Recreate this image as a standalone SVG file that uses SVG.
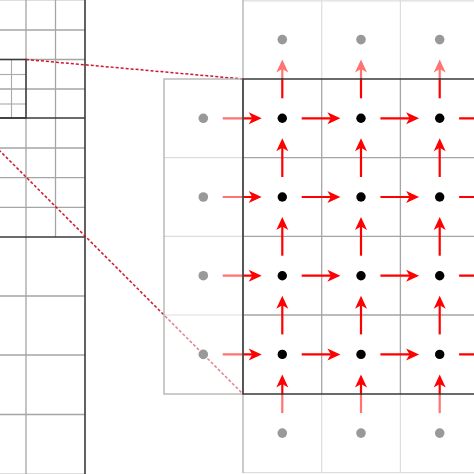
<svg xmlns="http://www.w3.org/2000/svg" width="474" height="474" viewBox="0 0 474 474">
<style>
.g{stroke:#a5a5a5;stroke-width:1.3;fill:none}
.f{stroke:#aaa;stroke-width:1.1;fill:none}
.d{stroke:#3a3a3a;stroke-width:1.6;fill:none}
.lg{stroke:#ddd;stroke-width:1.2;fill:none}
.mg{stroke:#b0b0b0;stroke-width:1.3;fill:none}
.dash{stroke:#d0162e;stroke-width:1.5;stroke-dasharray:3 2;fill:none}
.a{stroke:#f00;stroke-width:2.2;marker-end:url(#ah)}
.dot{fill:#000}
.gd{fill:#999}
.ov{fill:#fff;fill-opacity:0.45}
</style>
<defs>
<marker id="ah" markerUnits="userSpaceOnUse" orient="auto" overflow="visible" refX="0" refY="0" markerWidth="1" markerHeight="1">
<path d="M4,0 L-9,-6 L-5.5,0 L-9,6 Z" fill="#f00"/>
</marker>
</defs>
<rect width="474" height="474" fill="#fff"/>
<g id="left-panel">
<line class="lg" x1="0" y1="0.5" x2="85" y2="0.5"/>
<line class="g" x1="0" y1="30" x2="85" y2="30"/>
<line class="g" x1="26" y1="59.5" x2="85" y2="59.5"/>
<line class="g" x1="0" y1="89" x2="85" y2="89"/>
<line class="g" x1="0" y1="148" x2="85" y2="148"/>
<line class="g" x1="0" y1="177.7" x2="85" y2="177.7"/>
<line class="g" x1="0" y1="207.3" x2="85" y2="207.3"/>
<line class="g" x1="0" y1="296" x2="85" y2="296"/>
<line class="g" x1="0" y1="355" x2="85" y2="355"/>
<line class="g" x1="0" y1="414.5" x2="85" y2="414.5"/>
<line class="lg" x1="0" y1="473.5" x2="85" y2="473.5"/>
<line class="g" x1="26" y1="0" x2="26" y2="59.5"/>
<line class="g" x1="26" y1="118" x2="26" y2="474"/>
<line class="g" x1="55.5" y1="0" x2="55.5" y2="237"/>
<line class="f" x1="11.5" y1="59.5" x2="11.5" y2="118"/>
<line class="f" x1="0" y1="74.5" x2="26" y2="74.5"/>
<line class="f" x1="0" y1="104" x2="26" y2="104"/>
<rect class="d" x="-33" y="59.5" width="59" height="58.5"/>
<line class="d" x1="0" y1="118" x2="85" y2="118"/>
<line class="d" x1="0" y1="237" x2="85" y2="237"/>
<line class="d" x1="85" y1="0" x2="85" y2="474"/>
</g>
<g id="zoom-lines">
<line class="dash" x1="26" y1="59.5" x2="243" y2="79"/>
<line class="dash" x1="-33" y1="118" x2="243" y2="394"/>
</g>
<g id="inner-grid">
<line class="g" x1="321.7" y1="79" x2="321.7" y2="394"/>
<line class="g" x1="400.4" y1="79" x2="400.4" y2="394"/>
<line class="g" x1="243" y1="157.7" x2="474" y2="157.7"/>
<line class="g" x1="243" y1="236.3" x2="474" y2="236.3"/>
<line class="g" x1="243" y1="315" x2="474" y2="315"/>
</g>
<g id="black-dots">
<circle class="dot" cx="282.3" cy="118.3" r="4.7"/><circle class="dot" cx="361" cy="118.3" r="4.7"/><circle class="dot" cx="439.7" cy="118.3" r="4.7"/>
<circle class="dot" cx="282.3" cy="197" r="4.7"/><circle class="dot" cx="361" cy="197" r="4.7"/><circle class="dot" cx="439.7" cy="197" r="4.7"/>
<circle class="dot" cx="282.3" cy="275.7" r="4.7"/><circle class="dot" cx="361" cy="275.7" r="4.7"/><circle class="dot" cx="439.7" cy="275.7" r="4.7"/>
<circle class="dot" cx="282.3" cy="354.4" r="4.7"/><circle class="dot" cx="361" cy="354.4" r="4.7"/><circle class="dot" cx="439.7" cy="354.4" r="4.7"/>
</g>
<g id="connectors">
<line class="a" x1="222.7" y1="118.3" x2="257.7" y2="118.3"/><line class="a" x1="301.7" y1="118.3" x2="336.4" y2="118.3"/><line class="a" x1="380.4" y1="118.3" x2="415.1" y2="118.3"/><line class="a" x1="459.1" y1="118.3" x2="493.8" y2="118.3"/>
<line class="a" x1="222.7" y1="197" x2="257.7" y2="197"/><line class="a" x1="301.7" y1="197" x2="336.4" y2="197"/><line class="a" x1="380.4" y1="197" x2="415.1" y2="197"/><line class="a" x1="459.1" y1="197" x2="493.8" y2="197"/>
<line class="a" x1="222.7" y1="275.7" x2="257.7" y2="275.7"/><line class="a" x1="301.7" y1="275.7" x2="336.4" y2="275.7"/><line class="a" x1="380.4" y1="275.7" x2="415.1" y2="275.7"/><line class="a" x1="459.1" y1="275.7" x2="493.8" y2="275.7"/>
<line class="a" x1="222.7" y1="354.4" x2="257.7" y2="354.4"/><line class="a" x1="301.7" y1="354.4" x2="336.4" y2="354.4"/><line class="a" x1="380.4" y1="354.4" x2="415.1" y2="354.4"/><line class="a" x1="459.1" y1="354.4" x2="493.8" y2="354.4"/>
<line class="a" x1="282.3" y1="98.3" x2="282.3" y2="63.6"/><line class="a" x1="282.3" y1="177" x2="282.3" y2="142.3"/><line class="a" x1="282.3" y1="255.7" x2="282.3" y2="221"/><line class="a" x1="282.3" y1="334.4" x2="282.3" y2="299.7"/><line class="a" x1="282.3" y1="413.1" x2="282.3" y2="378.4"/>
<line class="a" x1="361" y1="98.3" x2="361" y2="63.6"/><line class="a" x1="361" y1="177" x2="361" y2="142.3"/><line class="a" x1="361" y1="255.7" x2="361" y2="221"/><line class="a" x1="361" y1="334.4" x2="361" y2="299.7"/><line class="a" x1="361" y1="413.1" x2="361" y2="378.4"/>
<line class="a" x1="439.7" y1="98.3" x2="439.7" y2="63.6"/><line class="a" x1="439.7" y1="177" x2="439.7" y2="142.3"/><line class="a" x1="439.7" y1="255.7" x2="439.7" y2="221"/><line class="a" x1="439.7" y1="334.4" x2="439.7" y2="299.7"/><line class="a" x1="439.7" y1="413.1" x2="439.7" y2="378.4"/>
</g>
<g id="ghost-cells">
<rect class="ov" x="243.8" y="0" width="231" height="78.3"/>
<rect class="ov" x="243.8" y="394.8" width="231" height="80"/>
<rect class="ov" x="164.6" y="79.8" width="77.6" height="313.4"/>
<line class="lg" x1="243" y1="0.8" x2="474" y2="0.8"/>
<line class="lg" x1="321.7" y1="0" x2="321.7" y2="79"/>
<line class="lg" x1="400.4" y1="0" x2="400.4" y2="79"/>
<line class="lg" x1="321.7" y1="394" x2="321.7" y2="473"/>
<line class="lg" x1="400.4" y1="394" x2="400.4" y2="473"/>
<line class="lg" x1="243" y1="472.6" x2="474" y2="472.6"/>
<line class="mg" x1="243" y1="0" x2="243" y2="79"/>
<line class="mg" x1="243" y1="394" x2="243" y2="473"/>
<line class="lg" x1="164" y1="157.7" x2="243" y2="157.7"/>
<line class="lg" x1="164" y1="236.3" x2="243" y2="236.3"/>
<line class="lg" x1="164" y1="315" x2="243" y2="315"/>
<rect class="mg" x="164" y="79" width="79" height="315"/>
<circle class="gd" cx="203.3" cy="118.3" r="4.8"/><circle class="gd" cx="203.3" cy="197" r="4.8"/><circle class="gd" cx="203.3" cy="275.7" r="4.8"/><circle class="gd" cx="203.3" cy="354.4" r="4.8"/>
<circle class="gd" cx="282.3" cy="39.6" r="4.8"/><circle class="gd" cx="361" cy="39.6" r="4.8"/><circle class="gd" cx="439.7" cy="39.6" r="4.8"/>
<circle class="gd" cx="282.3" cy="433.1" r="4.8"/><circle class="gd" cx="361" cy="433.1" r="4.8"/><circle class="gd" cx="439.7" cy="433.1" r="4.8"/>
</g>
<g id="zoom-box">
<path class="d" d="M476,79 H243 V394 H476"/>
</g>
</svg>
